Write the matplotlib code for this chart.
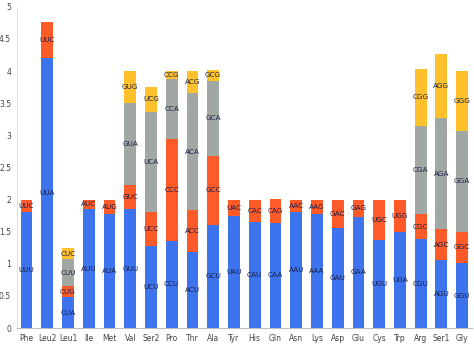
import matplotlib.pyplot as plt
import numpy as np

# amino acids along the x axis
amino = ["Phe", "Leu2", "Leu1", "Ile", "Met", "Val", "Ser2", "Pro", "Thr", "Ala",
         "Tyr", "His", "Gln", "Asn", "Lys", "Asp", "Glu", "Cys", "Trp", "Arg",
         "Ser1", "Gly"]

# RSCU per codon layer (bottom -> top); 0 = no codon in that layer
rscu1 = [1.80, 4.20, 0.48, 1.85, 1.77, 1.85, 1.28, 1.36, 1.18, 1.61,
         1.74, 1.65, 1.64, 1.81, 1.78, 1.55, 1.73, 1.37, 1.50, 1.38, 1.06, 1.01]
rscu2 = [0.20, 0.57, 0.17, 0.15, 0.23, 0.38, 0.52, 1.58, 0.65, 1.07,
         0.26, 0.35, 0.37, 0.19, 0.22, 0.45, 0.27, 0.63, 0.50, 0.39, 0.48, 0.49]
rscu3 = [0, 0, 0.42, 0, 0, 1.28, 1.56, 0.93, 1.83, 1.17,
         0, 0, 0, 0, 0, 0, 0, 0, 0, 1.38, 1.73, 1.57]
rscu4 = [0, 0, 0.18, 0, 0, 0.49, 0.40, 0.13, 0.34, 0.17,
         0, 0, 0, 0, 0, 0, 0, 0, 0, 0.88, 0.99, 0.93]

codon1 = ["UUU", "UUA", "CUA", "AUU", "AUA", "GUU", "UCU", "CCU", "ACU", "GCU",
          "UAU", "CAU", "CAA", "AAU", "AAA", "GAU", "GAA", "UGU", "UGA", "CGU", "AGU", "GGU"]
codon2 = ["UUC", "UUC", "CUG", "AUC", "AUG", "GUC", "UCC", "CCC", "ACC", "GCC",
          "UAC", "CAC", "CAG", "AAC", "AAG", "GAC", "GAG", "UGC", "UGG", "CGC", "AGC", "GGC"]
codon3 = ["", "", "CUU", "", "", "GUA", "UCA", "CCA", "ACA", "GCA",
          "", "", "", "", "", "", "", "", "", "CGA", "AGA", "GGA"]
codon4 = ["", "", "CUC", "", "", "GUG", "UCG", "CCG", "ACG", "GCG",
          "", "", "", "", "", "", "", "", "", "CGG", "AGG", "GGG"]

colors = ["#3d74ee", "#ff5a28", "#a1a8a3", "#ffc12b"]

fig = plt.figure(figsize=(4.74, 3.44), dpi=100)
ax = fig.add_axes([0.035, 0.0465, 0.961, 0.9335])

x = np.arange(len(amino))
bottom = np.zeros(len(amino))
for vals, labels, c in zip([rscu1, rscu2, rscu3, rscu4],
                           [codon1, codon2, codon3, codon4], colors):
    vals = np.array(vals)
    ax.bar(x, vals, 0.57, bottom=bottom, color=c, linewidth=0)
    for i in range(len(amino)):
        if vals[i] > 0:
            ax.text(x[i], bottom[i] + vals[i] / 2, labels[i], ha="center", va="center",
                    fontsize=5.2, color="#1a2048")
    bottom = bottom + vals

ax.set_xlim(-0.48, len(amino) - 0.52)
ax.set_ylim(0, 5)
ax.set_yticks(np.arange(0, 5.01, 0.5))
ax.set_yticklabels(["0", "0.5", "1", "1.5", "2", "2.5", "3", "3.5", "4", "4.5", "5"])
ax.set_xticks(x)
ax.set_xticklabels(amino)
ax.tick_params(length=0, labelsize=5.5, colors="#444444", pad=4)
for s in ["top", "right"]:
    ax.spines[s].set_visible(False)
ax.spines["left"].set_color("#d9d9d9")
ax.spines["bottom"].set_color("#bfbfbf")
ax.spines["left"].set_linewidth(0.6)
ax.spines["bottom"].set_linewidth(0.8)

fig.savefig("out.png", dpi=100)
